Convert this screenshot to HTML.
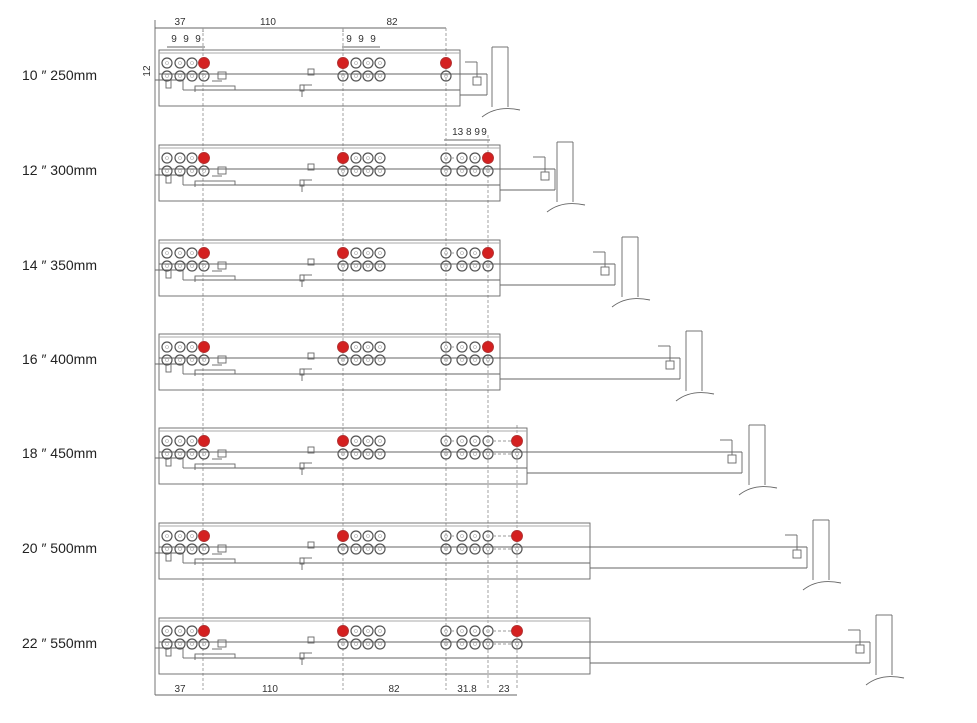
<!DOCTYPE html>
<html><head><meta charset="utf-8"><style>
html,body{margin:0;padding:0;background:#fff;}
svg{display:block;font-family:"Liberation Sans",sans-serif;}
</style></head><body>
<svg id="s" width="977" height="723" viewBox="0 0 977 723" xmlns="http://www.w3.org/2000/svg">
<g font-size="14" fill="#222">
<text x="22" y="80">10 ″  250mm</text>
<text x="22" y="175">12 ″  300mm</text>
<text x="22" y="270">14 ″  350mm</text>
<text x="22" y="364">16 ″  400mm</text>
<text x="22" y="458">18 ″  450mm</text>
<text x="22" y="553">20 ″  500mm</text>
<text x="22" y="648">22 ″  550mm</text>
</g>
<g font-size="10" fill="#333" text-anchor="middle">
<text x="180" y="25">37</text><text x="268" y="25">110</text><text x="392" y="25">82</text>
<text x="174" y="42">9</text><text x="186" y="42">9</text><text x="198" y="42">9</text>
<text x="349" y="42">9</text><text x="361" y="42">9</text><text x="373" y="42">9</text>
<text x="466" y="135">13 8 9</text><text x="484" y="135">9</text>
<text x="180" y="692">37</text><text x="270" y="692">110</text><text x="394" y="692">82</text>
<text x="467" y="692">31.8</text><text x="504" y="692">23</text>
<text x="0" y="0" transform="translate(150,71) rotate(-90)">12</text>
</g>
<g id="g" fill="none" stroke="#666" stroke-width="0.9"></g>
</svg>
<script>
var g=document.getElementById('g'),h='';
function L(x1,y1,x2,y2,st){h+='<line x1="'+x1+'" y1="'+y1+'" x2="'+x2+'" y2="'+y2+'"'+(st?' '+st:'')+'/>';}
function R(x,y,w,hh){h+='<rect x="'+x+'" y="'+y+'" width="'+w+'" height="'+hh+'"/>';}
function C(x,y,red){h+= red?'<circle cx="'+x+'" cy="'+y+'" r="5.5" fill="#d42020" stroke="#b03030"/>':'<circle cx="'+x+'" cy="'+y+'" r="5" stroke="#555" stroke-width="1.2"/><circle cx="'+x+'" cy="'+y+'" r="1.5" stroke="#aaa" stroke-width="0.6"/>';}
var D='stroke-dasharray="3,2" stroke="#999"';
L(155,20,155,695);L(155,28,446,28);L(203,28,203,32);L(343,28,343,32);
L(155,695,517,695);
L(167,47,205,47);L(342,47,380,47);L(444,140,490,140);
[203,343].forEach(function(x){L(x,28,x,690,D)});
L(446,28,446,690,D);L(488,135,488,690,D);L(517,425,517,690,D);
var rows=[75,170,265,359,453,548,643];
var re=[460,500,500,500,527,590,590];
var ex=[487,555,615,680,742,807,870];
var fp=[492,557,622,686,749,813,876];
rows.forEach(function(Y,i){
  var r=re[i];
  R(159,Y-25,r-159,56);L(159,Y-22,r,Y-22,'stroke="#aaa"');
  L(159,Y-1,ex[i],Y-1);L(ex[i],Y-1,ex[i],Y+20);L(r,Y+20,ex[i],Y+20);
  L(198,Y+15,r,Y+15);L(195,Y+12,195,Y+17);L(155,Y+5,183,Y+5);L(183,Y+5,183,Y+15);L(183,Y+15,198,Y+15);
  R(166,Y+5,5,8);R(218,Y-3,8,7);R(195,Y+11,40,4);L(212,Y+6,222,Y+6);
  R(308,Y-6,6,6);R(300,Y+10,4,6);L(302,Y+10,312,Y+10);L(302,Y+16,302,Y+22);
  [167,180,192].forEach(function(x){C(x,Y-12);C(x,Y+1)});C(204,Y-12,1);C(204,Y+1);
  C(343,Y-12,1);C(343,Y+1);[356,368,380].forEach(function(x){C(x,Y-12);C(x,Y+1)});
  if(i==0){C(446,Y-12,1);C(446,Y+1);}
  else{C(446,Y-12);C(446,Y+1);C(462,Y-12);C(462,Y+1);C(475,Y-12);C(475,Y+1);
    if(i<4){C(488,Y-12,1);C(488,Y+1);L(451,Y-12,457,Y-12,D);}
    else{C(488,Y-12);C(488,Y+1);C(517,Y-12,1);C(517,Y+1);L(451,Y-12,457,Y-12,D);L(493,Y-12,512,Y-12,D);L(493,Y+1,512,Y+1,D);}}
  var e=ex[i];R(e-14,Y+2,8,8);L(e-22,Y-13,e-10,Y-13);L(e-10,Y-13,e-10,Y+2);
  var f=fp[i];L(f,Y+32,f,Y-28);L(f,Y-28,f+16,Y-28);L(f+16,Y-28,f+16,Y+32);
  h+='<path d="M'+(f-10)+' '+(Y+42)+' Q'+(f+5)+' '+(Y+30)+' '+(f+28)+' '+(Y+35)+'"/>';
});
g.innerHTML=h;
</script>
</body></html>
